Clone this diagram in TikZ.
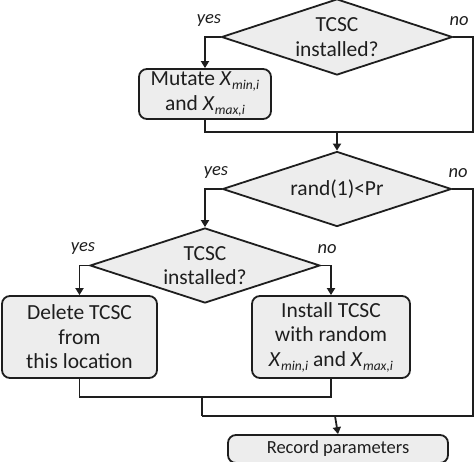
\documentclass[tikz,border=0pt]{standalone}
\usepackage{fontspec}
\setmainfont{Carlito}
\usetikzlibrary{shapes.geometric,arrows.meta}
\newcommand{\Xsub}[1]{\textit{X}\kern0.3pt\raisebox{-0.4ex}{\fontsize{13.5}{13.5}\selectfont\itshape #1}}
\definecolor{boxfill}{HTML}{EDEDED}
\definecolor{ink}{HTML}{1E1E1E}
\tikzset{
  flow/.style={draw=ink, line width=1.8pt},
  arr/.style={flow, -{Triangle[length=7pt,width=8pt]}},
  dec/.style={shape=diamond, draw=ink, fill=boxfill, line width=1.8pt, inner sep=0pt},
  proc/.style={rectangle, rounded corners=8pt, draw=ink, fill=boxfill, line width=1.8pt, inner sep=0pt},
  txt/.style={align=center, font=\fontsize{21.5}{24.5}\selectfont, inner sep=0pt, text=ink},
  lbl/.style={font=\fontsize{18.5}{18.5}\selectfont\itshape, inner sep=0pt, text=ink},
}
\begin{document}
\begin{tikzpicture}[x=1pt,y=-1pt]
\useasboundingbox (0,0) rectangle (474,461);

% decisions
\node[dec, minimum width=231pt, minimum height=76pt] (d1) at (337,37) {};
\node[txt] (d1t) at (d1.center) {TCSC\\installed?};
\node[dec, minimum width=229pt, minimum height=75pt] (d2) at (337,189) {};
\node[txt] (d2t) at (d2.center) {rand(1)<Pr};
\node[dec, minimum width=230pt, minimum height=75pt] (d3) at (205,265.5) {};
\node[txt] (d3t) at (d3.center) {TCSC\\installed?};

% processes
\node[proc, minimum width=132pt, minimum height=50pt] (mut) at (205,94) {};
\node[txt] (mutt) at (mut.center) {Mutate \Xsub{min,i}\\and \Xsub{max,i}};
\node[proc, minimum width=155pt, minimum height=82pt] (del) at (79.5,337) {};
\node[txt] (delt) at (del.center) {Delete TCSC\\from\\this location};
\node[proc, minimum width=158pt, minimum height=82pt] (ins) at (331,337) {};
\node[txt] (inst) at (ins.center) {Install TCSC\\with random\\\Xsub{min,i} and \Xsub{max,i}};
\node[proc, minimum width=220pt, minimum height=28pt] (rec) at (338,449) {};
\node[txt, font=\fontsize{18.5}{22}\selectfont] (rect) at (rec.center) {Record parameters};

% labels
\node[lbl] (y1) at (209,21) {yes};
\node[lbl] (n1) at (459,21) {no};
\node[lbl] (y2) at (216,173) {yes};
\node[lbl] (n2) at (458,173) {no};
\node[lbl] (y3) at (83,249) {yes};
\node[lbl] (n3) at (327,249) {no};

% coordinates
\coordinate (top) at (337,-20);
\coordinate (m1) at (337,132);
\coordinate (m2) at (202,397);
\coordinate (m3) at (335,416);

% connectors
\draw[arr] (top) -- (d1.north);
\draw[arr] (d1.west) -| (mut.north);
\draw[flow] (d1.east) -- (473,37) |- (m1);
\draw[flow] (mut.south) |- (m1);
\draw[arr] (m1) -- (d2.north);
\draw[arr] (d2.west) -| (d3.north);
\draw[flow] (d2.east) -- (473,189) |- (m2 |- m3);
\draw[arr] (d3.west) -| (del.north);
\draw[arr] (d3.east) -| (ins.north);
\draw[flow] (del.south) |- (m2);
\draw[flow] (ins.south) |- (m2);
\draw[flow] (m2) -- (m2 |- m3);
\draw[arr] (m3) -- (rec.north);
\end{tikzpicture}
\end{document}
